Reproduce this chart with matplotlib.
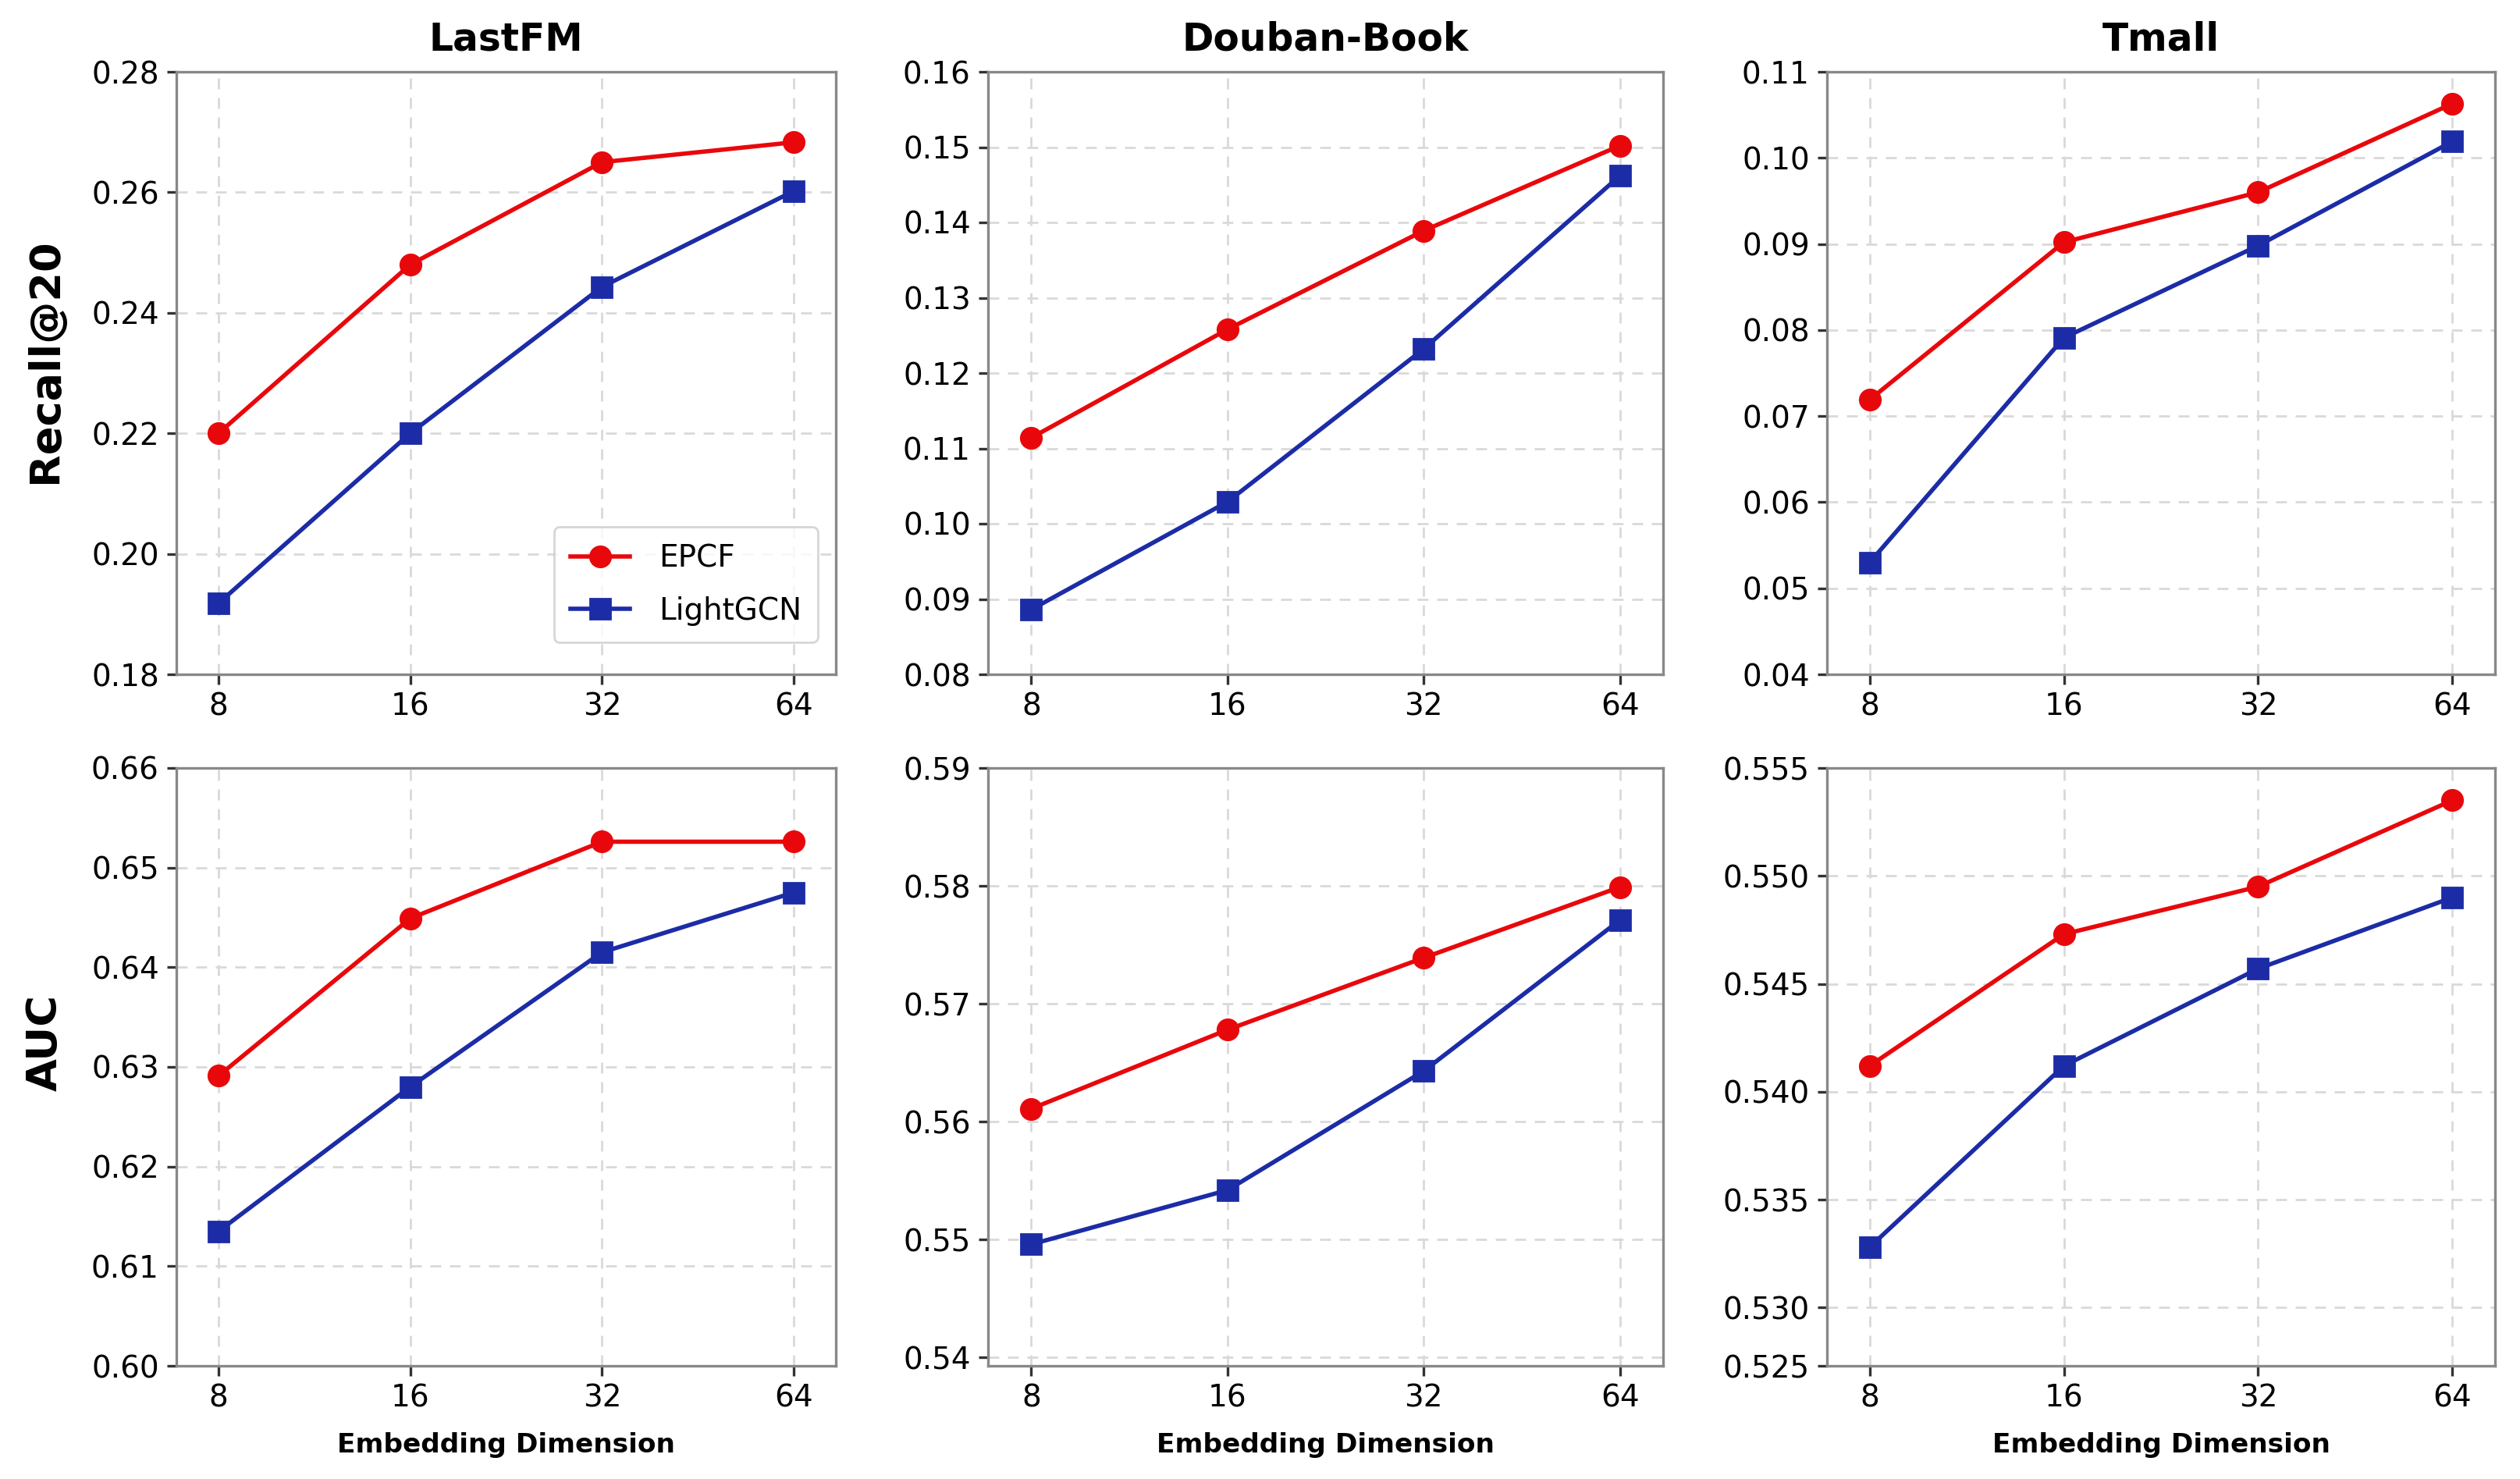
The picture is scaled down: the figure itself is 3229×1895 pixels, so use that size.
import matplotlib
matplotlib.use("Agg")
import matplotlib.pyplot as plt

dims = ["8", "16", "32", "64"]
datasets = ["LastFM", "Douban-Book", "Tmall"]
metrics = ["Recall@20", "AUC"]
methods = ["EPCF", "LightGCN"]

recall_epcf = {
    "LastFM": [0.220, 0.248, 0.265, 0.2683],
    "Douban-Book": [0.1114, 0.1258, 0.1389, 0.1502],
    "Tmall": [0.0719, 0.0902, 0.0960, 0.1063],
}
recall_lightgcn = {
    "LastFM": [0.1918, 0.2200, 0.2443, 0.2602],
    "Douban-Book": [0.0886, 0.1029, 0.1232, 0.1462],
    "Tmall": [0.0530, 0.0791, 0.0898, 0.1019],
}
auc_epcf = {
    "LastFM": [0.6291, 0.6449, 0.6526, 0.6526],
    "Douban-Book": [0.5611, 0.5678, 0.5739, 0.5799],
    "Tmall": [0.5412, 0.5473, 0.5495, 0.5535],
}
auc_lightgcn = {
    "LastFM": [0.6135, 0.6280, 0.6415, 0.6475],
    "Douban-Book": [0.5496, 0.5542, 0.5643, 0.5771],
    "Tmall": [0.5328, 0.5412, 0.5457, 0.5490],
}

# y-axis tick values / labels per panel
yticks = {
    ("Recall@20", "LastFM"): [0.18, 0.20, 0.22, 0.24, 0.26, 0.28],
    ("Recall@20", "Douban-Book"): [0.08, 0.09, 0.10, 0.11, 0.12, 0.13, 0.14, 0.15, 0.16],
    ("Recall@20", "Tmall"): [0.04, 0.05, 0.06, 0.07, 0.08, 0.09, 0.10, 0.11],
    ("AUC", "LastFM"): [0.60, 0.61, 0.62, 0.63, 0.64, 0.65, 0.66],
    ("AUC", "Douban-Book"): [0.54, 0.55, 0.56, 0.57, 0.58, 0.59],
    ("AUC", "Tmall"): [0.5273, 0.530, 0.535, 0.540, 0.545, 0.550, 0.555],
}
ytick_labels = {
    ("Recall@20", "LastFM"): ["0.18", "0.20", "0.22", "0.24", "0.26", "0.28"],
    ("Recall@20", "Douban-Book"): ["0.08", "0.09", "0.10", "0.11", "0.12", "0.13", "0.14", "0.15", "0.16"],
    ("Recall@20", "Tmall"): ["0.04", "0.05", "0.06", "0.07", "0.08", "0.09", "0.10", "0.11"],
    ("AUC", "LastFM"): ["0.60", "0.61", "0.62", "0.63", "0.64", "0.65", "0.66"],
    ("AUC", "Douban-Book"): ["0.54", "0.55", "0.56", "0.57", "0.58", "0.59"],
    ("AUC", "Tmall"): ["0.525", "0.530", "0.535", "0.540", "0.545", "0.550", "0.555"],
}
ylims = {
    ("Recall@20", "LastFM"): (0.18, 0.28),
    ("Recall@20", "Douban-Book"): (0.08, 0.16),
    ("Recall@20", "Tmall"): (0.04, 0.11),
    ("AUC", "LastFM"): (0.60, 0.66),
    ("AUC", "Douban-Book"): (0.5393, 0.59),
    ("AUC", "Tmall"): (0.5273, 0.555),
}

RED = "#e8080c"
BLUE = "#1c2ca6"

plt.rcParams["font.family"] = ["DejaVu Sans"]

W, H = 3230, 1895
fig = plt.figure(figsize=(W / 200, H / 200), dpi=200)

col_lr = [(226, 1071), (1266, 2131), (2341, 3197)]
row_tb = [(92, 864), (984, 1750)]
ylabel_y = {"Recall@20": 0.52, "AUC": 0.54}

x = list(range(len(dims)))
for r, metric in enumerate(metrics):
    for c, ds in enumerate(datasets):
        l, rr = col_lr[c]
        t, b = row_tb[r]
        ax = fig.add_axes([l / W, 1 - b / H, (rr - l) / W, (b - t) / H])
        if metric == "Recall@20":
            e, g = recall_epcf[ds], recall_lightgcn[ds]
        else:
            e, g = auc_epcf[ds], auc_lightgcn[ds]
        ax.plot(x, e, color=RED, lw=2, marker="o", ms=9.5, label=methods[0], zorder=3)
        ax.plot(x, g, color=BLUE, lw=2, marker="s", ms=9.5, label=methods[1], zorder=3)
        ax.set_xticks(x)
        ax.set_xticklabels(dims)
        ax.set_xlim(-0.22, 3.22)
        ax.set_ylim(*ylims[(metric, ds)])
        ax.set_yticks(yticks[(metric, ds)])
        ax.set_yticklabels(ytick_labels[(metric, ds)])
        ax.tick_params(labelsize=14, length=4.5, width=1.2, color="#333333")
        ax.grid(True, ls=(0, (5, 4)), color="#d9d9d9", lw=1.0, zorder=0)
        for sp in ax.spines.values():
            sp.set_color("#888888")
            sp.set_linewidth(1.2)
        if r == 0:
            ax.set_title(ds, fontsize=17.5, fontweight="bold", pad=10)
        else:
            ax.set_xlabel("Embedding Dimension", fontsize=12.4, fontweight="bold", labelpad=9)
        if c == 0:
            ax.set_ylabel(metric, fontsize=19.5, fontweight="bold", labelpad=12,
                          y=ylabel_y[metric])
        if r == 0 and c == 0:
            ax.legend(loc="lower right", bbox_to_anchor=(0.973, 0.053), borderaxespad=0,
                      fontsize=14, handlelength=1.95, handletextpad=0.95,
                      borderpad=0.55, labelspacing=0.75, edgecolor="#cccccc")

fig.savefig("out.png", dpi=200, facecolor="white")
